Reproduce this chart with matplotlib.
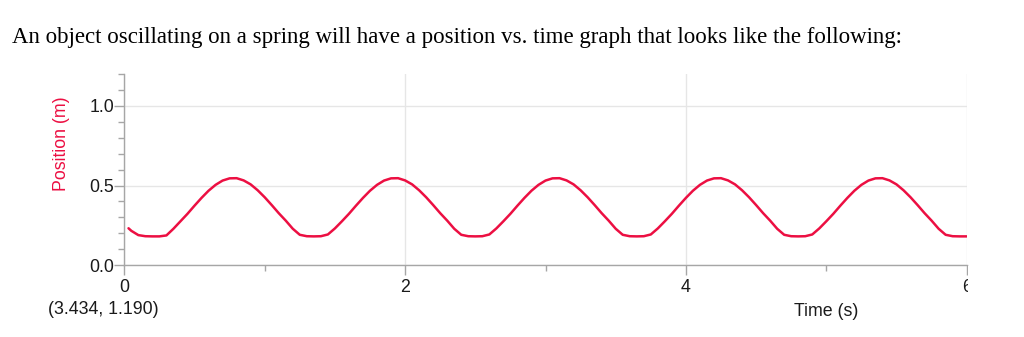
import matplotlib
matplotlib.use("Agg")
import matplotlib.pyplot as plt
from matplotlib.patches import Rectangle
from matplotlib.ticker import MultipleLocator

# ---- data ----
time_s = [
    0.03, 0.05, 0.10, 0.15, 0.20, 0.25, 0.30, 0.35, 0.40, 0.45, 0.50, 0.55,
    0.60, 0.65, 0.70, 0.75, 0.80, 0.85, 0.90, 0.95, 1.00, 1.05, 1.10,
    1.15, 1.20, 1.25, 1.30, 1.35, 1.40, 1.45, 1.50, 1.55, 1.60, 1.65, 1.70,
    1.75, 1.80, 1.85, 1.90, 1.95, 2.00, 2.05, 2.10, 2.15, 2.20, 2.25,
    2.30, 2.35, 2.40, 2.45, 2.50, 2.55, 2.60, 2.65, 2.70, 2.75, 2.80, 2.85,
    2.90, 2.95, 3.00, 3.05, 3.10, 3.15, 3.20, 3.25, 3.30, 3.35, 3.40,
    3.45, 3.50, 3.55, 3.60, 3.65, 3.70, 3.75, 3.80, 3.85, 3.90, 3.95, 4.00,
    4.05, 4.10, 4.15, 4.20, 4.25, 4.30, 4.35, 4.40, 4.45, 4.50, 4.55,
    4.60, 4.65, 4.70, 4.75, 4.80, 4.85, 4.90, 4.95, 5.00, 5.05, 5.10, 5.15,
    5.20, 5.25, 5.30, 5.35, 5.40, 5.45, 5.50, 5.55, 5.60, 5.65, 5.70,
    5.75, 5.80, 5.85, 5.90, 5.95, 6.00,
]
position_m = [
    0.231, 0.215, 0.188, 0.181, 0.180, 0.180, 0.186, 0.228, 0.275, 0.322, 0.373, 0.422,
    0.467, 0.504, 0.531, 0.545, 0.546, 0.532, 0.507, 0.470, 0.426, 0.377, 0.326,
    0.279, 0.228, 0.190, 0.181, 0.180, 0.181, 0.192, 0.230, 0.275, 0.322, 0.373, 0.422,
    0.467, 0.504, 0.531, 0.545, 0.546, 0.532, 0.507, 0.470, 0.426, 0.377, 0.326,
    0.279, 0.228, 0.190, 0.181, 0.180, 0.181, 0.192, 0.230, 0.275, 0.322, 0.373, 0.422,
    0.467, 0.504, 0.531, 0.545, 0.546, 0.532, 0.507, 0.470, 0.426, 0.377, 0.326,
    0.279, 0.228, 0.190, 0.181, 0.180, 0.181, 0.192, 0.230, 0.275, 0.322, 0.373, 0.422,
    0.467, 0.504, 0.531, 0.545, 0.546, 0.532, 0.507, 0.470, 0.426, 0.377, 0.326,
    0.279, 0.228, 0.190, 0.181, 0.180, 0.181, 0.192, 0.230, 0.275, 0.322, 0.373, 0.422,
    0.467, 0.504, 0.531, 0.545, 0.546, 0.532, 0.507, 0.470, 0.426, 0.377, 0.326,
    0.279, 0.228, 0.190, 0.181, 0.180, 0.180,
]
x_ticks = [0, 2, 4, 6]
x_tick_labels = ["0", "2", "4", "6"]
y_ticks = [0.0, 0.5, 1.0]
y_tick_labels = ["0.0", "0.5", "1.0"]

title = "An object oscillating on a spring will have a position vs. time graph that looks like the following:"
x_label = "Time (s)"
y_label = "Position (m)"
cursor_text = "(3.434, 1.190)"

RED = "#ec0f42"
AXC = "#a6a6a6"
GRIDC = "#e6e6e6"
TXT = "#1a1a1a"
FS = 12.8

W, H = 1024, 337
fig = plt.figure(figsize=(W / 100, H / 100), dpi=100)
fig.patch.set_facecolor("white")

fig.text(12 / W, 1 - 43 / H, title, fontfamily="Liberation Serif", fontsize=16.5,
         ha="left", va="baseline", color="black")

left, right, bottom, top = 124.3, 966.7, 265.0, 74.2
ax = fig.add_axes([left / W, 1 - bottom / H, (right - left) / W, (bottom - top) / H])
ax.set_xlim(0, 6)
ax.set_ylim(0, 1.2)

ax.plot(time_s, position_m, color=RED, lw=1.8, solid_capstyle="round",
        solid_joinstyle="round", zorder=3)

for s in ["top", "right"]:
    ax.spines[s].set_visible(False)
for s in ["left", "bottom"]:
    ax.spines[s].set_color(AXC)
    ax.spines[s].set_linewidth(1.0)

ax.set_xticks(x_ticks)
ax.set_xticklabels(x_tick_labels)
ax.set_yticks(y_ticks)
ax.set_yticklabels(y_tick_labels)
ax.xaxis.set_minor_locator(MultipleLocator(1))
ax.yaxis.set_minor_locator(MultipleLocator(0.1))

ax.tick_params(axis="both", which="major", colors=AXC, labelcolor=TXT,
               labelsize=FS, width=1.0)
ax.tick_params(axis="y", which="major", length=7, pad=0.5, direction="out")
ax.tick_params(axis="y", which="minor", length=4, width=1.0, color=AXC, direction="out")
ax.tick_params(axis="x", which="major", length=7, pad=3, direction="out")
ax.tick_params(axis="x", which="minor", length=4, width=1.0, color=AXC, direction="out")
for lab in ax.get_xticklabels() + ax.get_yticklabels():
    lab.set_fontfamily("Liberation Sans")

ax.grid(True, which="major", color=GRIDC, lw=1.0, zorder=0)
ax.set_axisbelow(True)

ax.text(-0.074, 0.637, y_label, transform=ax.transAxes, rotation=90,
        ha="center", va="center", color=RED, fontsize=FS, fontfamily="Liberation Sans")
fig.text(826.5 / W, 1 - 311 / H, x_label, ha="center", va="center", color=TXT,
         fontsize=FS, fontfamily="Liberation Sans")
fig.text(103 / W, 1 - 310 / H, cursor_text, ha="center", va="center", color=TXT,
         fontsize=FS, fontfamily="Liberation Sans")

# right edge of the graph area clips the last tick label
fig.patches.append(Rectangle((968 / W, 0), (W - 968) / W, 1 - 266 / H,
                             transform=fig.transFigure, facecolor="white",
                             edgecolor="none", zorder=10))

fig.savefig("out.png", dpi=100, facecolor="white")
